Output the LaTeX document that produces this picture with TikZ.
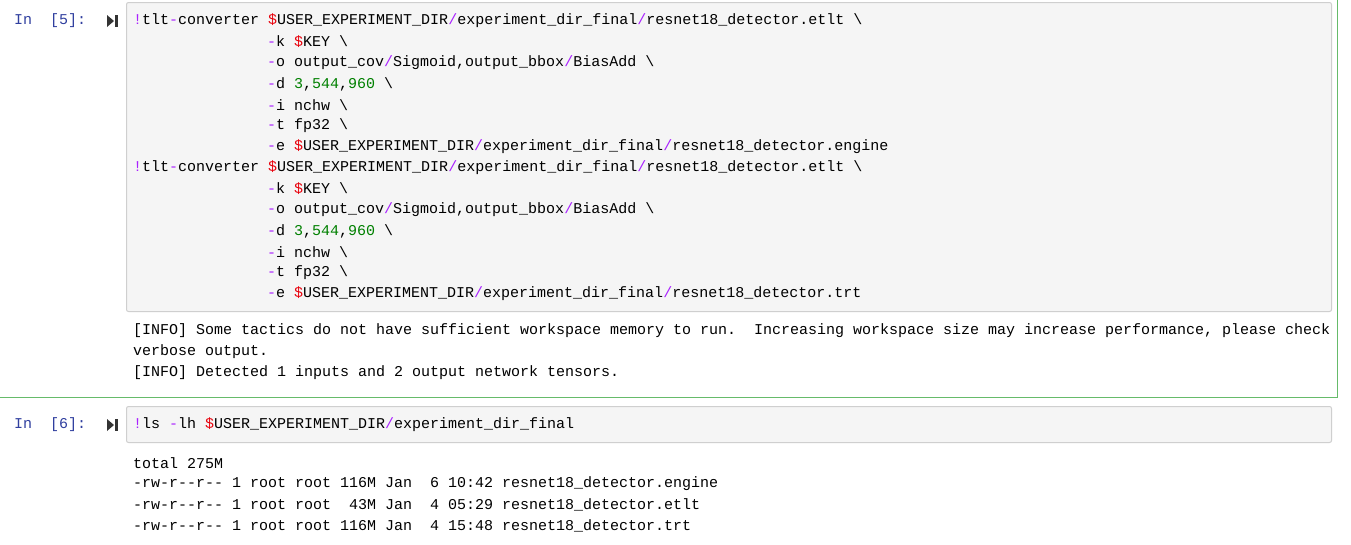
\documentclass[tikz,border=0pt]{standalone}
\usepackage{fontspec}
\setmonofont{Liberation Mono}
\setmainfont[Ligatures=ResetAll]{Liberation Mono}
\definecolor{kpur}{HTML}{AA22FF}
\definecolor{kred}{HTML}{E8000B}
\definecolor{kgrn}{HTML}{008000}
\definecolor{kblue}{HTML}{303F9F}
\definecolor{cellbg}{HTML}{F5F5F5}
\definecolor{cellbd}{HTML}{CFCFCF}
\definecolor{selbd}{HTML}{66BB6A}
\newcommand{\kP}[1]{\textcolor{kpur}{#1}}
\newcommand{\kR}[1]{\textcolor{kred}{#1}}
\newcommand{\kG}[1]{\textcolor{kgrn}{#1}}
\begin{document}
\begin{tikzpicture}[x=1pt,y=-1pt,
  code/.style={anchor=west,inner sep=0pt,font=\fontsize{15}{15}\selectfont},
  prompt/.style={anchor=west,inner sep=0pt,font=\fontsize{15}{15}\selectfont,text=kblue},
  cellbox/.style={draw=cellbd,fill=cellbg,rounded corners=2pt,line width=1pt}]
\useasboundingbox (0,0) rectangle (1351,544);
\fill[white] (0,0) rectangle (1351,544);
% selected cell border
\draw[selbd,line width=1pt] (0,397) -- (1337,397) -- (1337,0);
% input boxes
\node[cellbox,minimum width=1205pt,minimum height=309pt,anchor=north west] (in1) at (126,2) {};
\node[cellbox,minimum width=1205pt,minimum height=36pt,anchor=north west] (in2) at (126,406) {};
% prompts
\node[prompt] (p5) at (14,21) {In~~[5]:};
\node[prompt] (p6) at (14,425) {In~~[6]:};
% run icons
\fill[black!80] (107,15) -- (114,21) -- (107,27) -- cycle;
\fill[black!80] (115,15) rectangle (118,27);
\fill[black!80] (107,419) -- (114,425) -- (107,431) -- cycle;
\fill[black!80] (115,419) rectangle (118,431);
% cell 1 code
\def\ind{267}
\node[code] (l1) at (133,21) {\kP{!}tlt\kP{-}converter \kR{\$}USER\_EXPERIMENT\_DIR\kP{/}experiment\_dir\_final\kP{/}resnet18\_detector.etlt \textbackslash};
\node[code] (l2) at (\ind,42) {\kP{-}k \kR{\$}KEY \textbackslash};
\node[code] (l3) at (\ind,63) {\kP{-}o output\_cov\kP{/}Sigmoid,output\_bbox\kP{/}BiasAdd \textbackslash};
\node[code] (l4) at (\ind,84) {\kP{-}d \kG{3},\kG{544},\kG{960} \textbackslash};
\node[code] (l5) at (\ind,105) {\kP{-}i nchw \textbackslash};
\node[code] (l6) at (\ind,126) {\kP{-}t fp32 \textbackslash};
\node[code] (l7) at (\ind,147) {\kP{-}e \kR{\$}USER\_EXPERIMENT\_DIR\kP{/}experiment\_dir\_final\kP{/}resnet18\_detector.engine};
\node[code] (l8) at (133,168) {\kP{!}tlt\kP{-}converter \kR{\$}USER\_EXPERIMENT\_DIR\kP{/}experiment\_dir\_final\kP{/}resnet18\_detector.etlt \textbackslash};
\node[code] (l9) at (\ind,189) {\kP{-}k \kR{\$}KEY \textbackslash};
\node[code] (l10) at (\ind,210) {\kP{-}o output\_cov\kP{/}Sigmoid,output\_bbox\kP{/}BiasAdd \textbackslash};
\node[code] (l11) at (\ind,231) {\kP{-}d \kG{3},\kG{544},\kG{960} \textbackslash};
\node[code] (l12) at (\ind,252) {\kP{-}i nchw \textbackslash};
\node[code] (l13) at (\ind,273) {\kP{-}t fp32 \textbackslash};
\node[code] (l14) at (\ind,294) {\kP{-}e \kR{\$}USER\_EXPERIMENT\_DIR\kP{/}experiment\_dir\_final\kP{/}resnet18\_detector.trt};
% cell 1 output
\node[code] (o1) at (133,331) {[INFO] Some tactics do not have sufficient workspace memory to run.~~Increasing workspace size may increase performance, please check};
\node[code] (o2) at (133,352) {verbose output.};
\node[code] (o3) at (133,373) {[INFO] Detected 1 inputs and 2 output network tensors.};
% cell 2
\node[code] (c2) at (133,425) {\kP{!}ls \kP{-}lh \kR{\$}USER\_EXPERIMENT\_DIR\kP{/}experiment\_dir\_final};
\node[code] (q1) at (133,463) {total 275M};
\node[code] (q2) at (133,484) {-rw-r-{}-r-{}- 1 root root 116M Jan~~6 10:42 resnet18\_detector.engine};
\node[code] (q3) at (133,505) {-rw-r-{}-r-{}- 1 root root~~43M Jan~~4 05:29 resnet18\_detector.etlt};
\node[code] (q4) at (133,526) {-rw-r-{}-r-{}- 1 root root 116M Jan~~4 15:48 resnet18\_detector.trt};
\end{tikzpicture}
\end{document}
